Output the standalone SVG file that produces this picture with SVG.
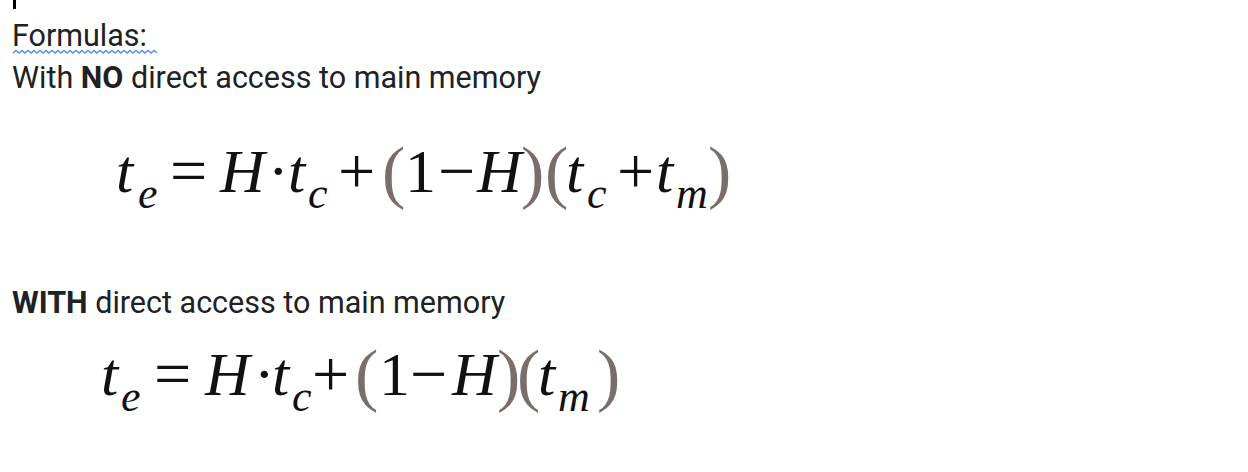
<svg xmlns="http://www.w3.org/2000/svg" width="1248" height="472" viewBox="0 0 1248 472">
<style>
.t{font-family:Roboto,"Liberation Sans",sans-serif;font-size:30.5px;fill:#202124}
.m{font-family:"Liberation Serif",serif;font-size:62px;fill:#111}
.i{font-style:italic}
.s{font-style:italic;font-size:44px}
.o{font-size:66px}
.p{fill:#7a6e6a;font-size:70px}
</style>
<rect width="1248" height="472" fill="#fff"/>
<rect x="13" y="0" width="3" height="9" fill="#000"/>
<text class="t" x="12" y="46">Formulas:</text>
<path d="M13 53 l3 -2.5 l3 2.5 l3 -2.5 l3 2.5 l3 -2.5 l3 2.5 l3 -2.5 l3 2.5 l3 -2.5 l3 2.5 l3 -2.5 l3 2.5 l3 -2.5 l3 2.5 l3 -2.5 l3 2.5 l3 -2.5 l3 2.5 l3 -2.5 l3 2.5 l3 -2.5 l3 2.5 l3 -2.5 l3 2.5 l3 -2.5 l3 2.5 l3 -2.5 l3 2.5 l3 -2.5 l3 2.5 l3 -2.5 l3 2.5 l3 -2.5 l3 2.5 l3 -2.5 l3 2.5 l3 -2.5 l3 2.5 l3 -2.5 l3 2.5 l3 -2.5 l3 2.5 l3 -2.5 l3 2.5 l3 -2.5 l3 2.5 l3 -2.5 l3 2.5" fill="none" stroke="#5b8def" stroke-width="1.5"/>
<text class="t" x="12" y="88">With <tspan font-weight="bold">NO</tspan> direct access to main memory</text>
<g id="formula1">
<text class="m"><tspan class="i" x="116" y="192">t</tspan><tspan class="s" x="138" y="208">e</tspan><tspan class="o" x="170" y="193">=</tspan><tspan class="i" x="220" y="192">H</tspan><tspan x="268" y="192">·</tspan><tspan class="i" x="288" y="192">t</tspan><tspan class="s" x="308" y="208">c</tspan><tspan class="o" x="338" y="193">+</tspan><tspan class="p" x="382" y="195">(</tspan><tspan x="405" y="192">1</tspan><tspan class="o" x="438" y="193">−</tspan><tspan class="i" x="477" y="192">H</tspan><tspan class="p" x="521" y="195">)</tspan><tspan class="p" x="545" y="195">(</tspan><tspan class="i" x="566" y="192">t</tspan><tspan class="s" x="587" y="208">c</tspan><tspan class="o" x="617" y="193">+</tspan><tspan class="i" x="656" y="192">t</tspan><tspan class="s" x="676" y="208">m</tspan><tspan class="p" x="708" y="195">)</tspan></text>
</g>
<text class="t" x="12" y="313"><tspan font-weight="bold">WITH</tspan> direct access to main memory</text>
<g id="formula2">
<text class="m"><tspan class="i" x="101" y="395">t</tspan><tspan class="s" x="121" y="411">e</tspan><tspan class="o" x="154" y="396">=</tspan><tspan class="i" x="205" y="395">H</tspan><tspan x="254" y="395">·</tspan><tspan class="i" x="272" y="395">t</tspan><tspan class="s" x="292" y="411">c</tspan><tspan class="o" x="312" y="396">+</tspan><tspan class="p" x="355" y="398">(</tspan><tspan x="379" y="395">1</tspan><tspan class="o" x="410" y="396">−</tspan><tspan class="i" x="452" y="395">H</tspan><tspan class="p" x="497" y="398">)</tspan><tspan class="p" x="517" y="398">(</tspan><tspan class="i" x="538" y="395">t</tspan><tspan class="s" x="558" y="411">m</tspan><tspan class="p" x="597" y="398">)</tspan></text>
</g>
</svg>
